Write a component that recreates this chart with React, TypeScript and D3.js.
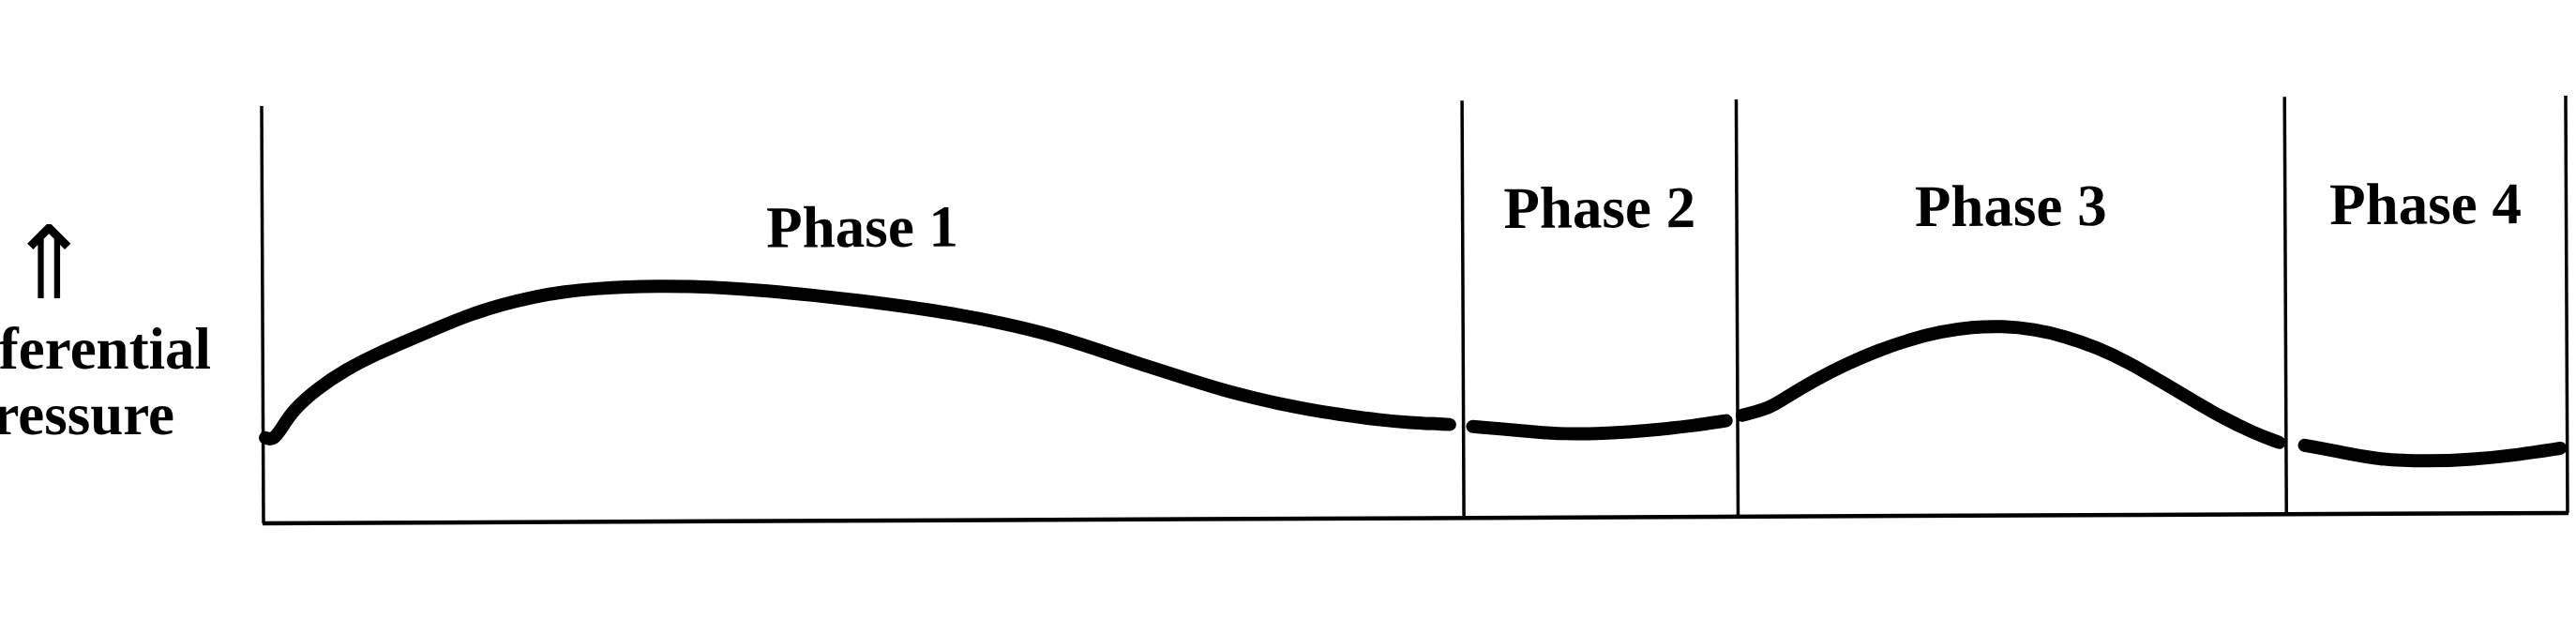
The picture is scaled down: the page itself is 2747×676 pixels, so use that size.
import React, { useEffect, useRef } from 'react'
import * as d3 from 'd3'

// phase names and the boundaries between them (time units, 0..100)
const phaseNames = ["Phase 1", "Phase 2", "Phase 3", "Phase 4"]
const phaseBounds = [0, 52.1, 64.0, 87.8, 100]

// differential pressure traces, one per phase
const phase1Time = [0.1, 0.45, 0.9, 1.3, 2.3, 3.6, 5.0, 6.35, 7.7, 9.0, 10.4, 11.8, 13.1, 14.5, 15.8, 17.2, 18.6, 19.9, 21.9, 24.0, 26.0, 28.0, 30.1, 32.1, 34.2, 36.2, 38.2, 40.3, 41.6, 43.0, 44.3, 45.7, 47.1, 48.4, 49.7, 51.5]
const phase1Pressure = [20.5, 19.8, 23.6, 27.0, 32.0, 36.8, 40.6, 43.8, 46.9, 49.8, 52.2, 54.0, 55.2, 55.9, 56.3, 56.4, 56.3, 56.0, 55.2, 54.0, 52.7, 51.2, 49.4, 47.2, 44.4, 40.8, 37.0, 33.3, 31.0, 29.0, 27.3, 25.8, 24.6, 23.6, 22.9, 22.4]
const phase2Time = [52.5, 53.8, 55.2, 56.5, 57.9, 59.3, 60.6, 62.0, 63.5]
const phase2Pressure = [21.9, 21.3, 20.5, 20.0, 20.0, 20.4, 21.0, 21.8, 23.0]
const phase3Time = [64.2, 65.4, 66.0, 67.4, 68.7, 70.1, 71.5, 72.8, 74.2, 75.5, 76.9, 78.2, 79.6, 81.0, 82.3, 83.7, 85.0, 86.4, 87.5]
const phase3Pressure = [24.3, 26.0, 28.2, 32.8, 36.4, 39.7, 42.3, 44.1, 45.2, 45.4, 44.6, 42.9, 40.2, 36.5, 32.2, 27.6, 23.3, 19.5, 17.2]
const phase4Time = [88.6, 90.4, 91.8, 93.9, 95.9, 97.9, 99.7]
const phase4Pressure = [16.5, 14.6, 13.0, 12.5, 12.9, 14.0, 15.5]

const yLabelLines = ["Differential", "Pressure"]

const width = 2747, height = 676
const margin = { top: 113, right: 9, bottom: 118, left: 281 }
const tilt = -0.258 // the scanned figure is slightly rotated
const labelBaselines = [266, 249, 249, 249]
const font = "'Liberation Serif', 'Times New Roman', serif"

export default function App() {
    const ref = useRef<HTMLDivElement>(null)

    useEffect(() => {
        const root = d3.select(ref.current)
        root.selectAll("*").remove()

        const svg = root.append("svg")
            .attr("width", width)
            .attr("height", height)
            .style("display", "block")
            .style("background", "#fff")

        const x = d3.scaleLinear()
            .domain([0, 100])
            .range([margin.left, width - margin.right])

        const y = d3.scaleLinear()
            .domain([0, 100])
            .range([height - margin.bottom, margin.top])

        const g = svg.append("g")
            .attr("transform", `rotate(${tilt},${x(0)},${y(0)})`)

        // bottom axis
        g.append("line")
            .attr("x1", x(0) - 1).attr("x2", x(100) + 1)
            .attr("y1", y(0)).attr("y2", y(0))
            .attr("stroke", "#000")
            .attr("stroke-width", 4.5)

        // left axis, phase dividers and right edge
        g.selectAll(".divider")
            .data(phaseBounds)
            .join("line")
            .attr("class", "divider")
            .attr("x1", d => x(d)).attr("x2", d => x(d))
            .attr("y1", y(0)).attr("y2", y(100))
            .attr("stroke", "#000")
            .attr("stroke-width", 3.5)

        const traces = [
            [phase1Time, phase1Pressure],
            [phase2Time, phase2Pressure],
            [phase3Time, phase3Pressure],
            [phase4Time, phase4Pressure],
        ].map(([t, p]) => t.map((d, i) => [d, p[i]] as [number, number]))

        const line = d3.line<[number, number]>()
            .x(d => x(d[0]))
            .y(d => y(d[1]))
            .curve(d3.curveBasis)

        g.selectAll(".trace")
            .data(traces)
            .join("path")
            .attr("class", "trace")
            .attr("d", line)
            .attr("fill", "none")
            .attr("stroke", "#000")
            .attr("stroke-width", 14)
            .attr("stroke-linecap", "round")
            .attr("stroke-linejoin", "round")

        // phase labels centred in their bands
        g.selectAll(".phase-label")
            .data(phaseNames)
            .join("text")
            .attr("class", "phase-label")
            .attr("x", (d, i) => (x(phaseBounds[i]) + x(phaseBounds[i + 1])) / 2)
            .attr("y", (d, i) => labelBaselines[i])
            .attr("text-anchor", "middle")
            .style("font-family", font)
            .style("font-weight", "bold")
            .style("font-size", "63px")
            .text(d => d)

        // upward arrow above the y label
        svg.append("text")
            .attr("x", 52)
            .attr("y", 318)
            .attr("text-anchor", "middle")
            .style("font-family", "'Noto Sans CJK JP', 'DejaVu Sans', sans-serif")
            .style("font-size", "108px")
            .text("⇑")

        // y label, partly cut off by the page edge as in the scan
        svg.selectAll(".y-label")
            .data(yLabelLines)
            .join("text")
            .attr("class", "y-label")
            .attr("x", 70)
            .attr("y", (d, i) => 393 + i * 70)
            .attr("text-anchor", "middle")
            .style("font-family", font)
            .style("font-weight", "bold")
            .style("font-size", "63px")
            .text(d => d)
    }, [])

    return (
        <div ref={ref} style={{ position: "absolute", left: 0, top: 0 }} />
    )
}
